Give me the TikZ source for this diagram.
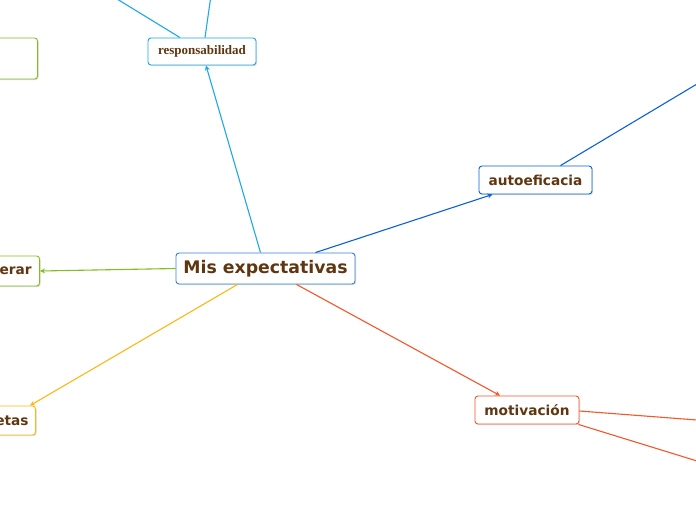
\documentclass[tikz,border=0pt]{standalone}
\usepackage{fontspec}
\setmainfont{DejaVu Sans}
\newfontfamily\serifb{Liberation Serif}
\usetikzlibrary{shadows,arrows.meta}
\definecolor{txt}{HTML}{5F3610}
\definecolor{cmain}{HTML}{3A80DA}
\definecolor{cresp}{HTML}{1FA8E6}
\definecolor{cauto}{HTML}{0B62D4}
\definecolor{cgreen}{HTML}{82BE1E}
\definecolor{cyel}{HTML}{FDB813}
\definecolor{cred}{HTML}{F5572B}
\tikzset{
  x=1pt,y=-1pt,
  topic/.style={draw, rounded corners=3pt, fill=white, text=txt, font=\bfseries, line width=0.9pt, inner sep=0pt,
     drop shadow={shadow xshift=1pt, shadow yshift=-1.2pt, fill=black!22, opacity=0.6}},
  conn/.style={line width=1.1pt},
  arr/.style={conn, -{Stealth[length=5pt,width=5pt]}}
}
\begin{document}
\begin{tikzpicture}
\useasboundingbox (0,0) rectangle (696,520);
\clip (0,0) rectangle (696,520);
\fill[white] (0,0) rectangle (696,520);
% nodes
\node[topic, draw=cmain, minimum width=179pt, minimum height=31pt, font=\bfseries\fontsize{17.3}{19}\selectfont] (main) at (265.5,268.5) {Mis expectativas};
\node[topic, draw=cresp, minimum width=108pt, minimum height=27pt, font=\serifb\bfseries\fontsize{13}{15}\selectfont] (resp) at (202,51.5) {responsabilidad};
\node[topic, draw=cauto, minimum width=113pt, minimum height=28pt, font=\bfseries\fontsize{13.7}{15}\selectfont] (auto) at (535.5,180) {autoeficacia};
\node[topic, draw=cred, minimum width=104pt, minimum height=28pt, font=\bfseries\fontsize{13.7}{15}\selectfont] (moti) at (527,410) {motivación};
\node[topic, draw=cgreen, anchor=east, minimum height=30pt, text width=70pt, align=right, inner xsep=8pt, font=\bfseries\fontsize{13.7}{15}\selectfont] (erar) at (40,271) {erar};
\node[topic, draw=cyel, anchor=east, minimum height=29pt, text width=70pt, align=right, inner xsep=7pt, font=\bfseries\fontsize{13.7}{15}\selectfont] (etas) at (36,420.5) {etas};
\node[topic, draw=cgreen, anchor=east, minimum height=41pt, minimum width=90pt] (gbox) at (38,58.5) {};
% off-screen ends
\coordinate (r1) at (117,-1);
\coordinate (r2) at (210.5,-1);
\coordinate (a1) at (697,84);
\coordinate (m1) at (697,420);
\coordinate (m2) at (697,461);
% connectors
\draw[arr, cresp] (main.north) ++(-5,0) -- ([xshift=4pt]resp.south);
\draw[conn, cresp] ([xshift=-22pt]resp.north) -- (r1);
\draw[conn, cresp] ([xshift=3pt]resp.north) -- (r2);
\draw[arr, cauto] ([xshift=50pt]main.north) -- ([xshift=-43pt]auto.south);
\draw[conn, cauto] ([xshift=25pt]auto.north) -- (a1);
\draw[arr, cgreen] (main.west) -- (erar.east);
\draw[arr, cyel] ([xshift=-28pt]main.south) -- ([xshift=-6pt]etas.north east);
\draw[arr, cred] ([xshift=31pt]main.south) -- ([xshift=-27pt]moti.north);
\draw[conn, cred] ([yshift=-1pt]moti.east) -- (m1);
\draw[conn, cred] ([xshift=-1pt]moti.south east) -- (m2);
\end{tikzpicture}
\end{document}
